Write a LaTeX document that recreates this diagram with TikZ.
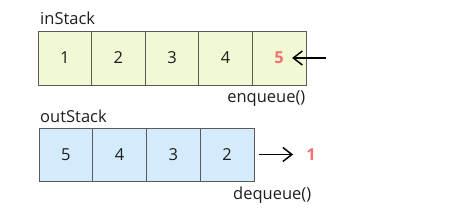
\documentclass[tikz,border=0pt]{standalone}
\usepackage{fontspec}
\setmainfont{Open Sans}
\usetikzlibrary{arrows.meta}
\definecolor{inFill}{HTML}{F1F8D4}
\definecolor{outFill}{HTML}{D3EBFB}
\definecolor{cellLine}{HTML}{5A5A5A}
\definecolor{hot}{HTML}{F07272}
\definecolor{ink}{HTML}{1E1E1E}
\tikzset{
  incell/.style={draw=cellLine, fill=inFill, line width=0.9pt, minimum width=53.6pt, minimum height=54pt, inner sep=0pt, text=ink, font=\fontsize{16.5}{19}\selectfont},
  outcell/.style={draw=cellLine, fill=outFill, line width=0.9pt, minimum width=53.75pt, minimum height=53pt, inner sep=0pt, text=ink, font=\fontsize{16.5}{19}\selectfont},
  lbl/.style={text=ink, inner sep=0pt, font=\fontsize{16.5}{19}\selectfont},
  hotnum/.style={text=hot, inner sep=0pt, font=\fontsize{16.5}{19}\selectfont\bfseries},
  arr/.style={-{Straight Barb[length=9pt,width=14pt,line width=1.5pt]}, line width=1.5pt, black}
}
\begin{document}
\begin{tikzpicture}[x=1pt,y=-1pt]
\useasboundingbox (0,0) rectangle (474,215);
% inStack
\node[lbl, anchor=west] (inlbl) at (40,18) {inStack};
\node[incell] (a1) at (64.8,58) {1};
\node[incell] (a2) at (118.4,58) {2};
\node[incell] (a3) at (172,58) {3};
\node[incell] (a4) at (225.6,58) {4};
\node[incell] (a5) at (279.2,58) {};
\node[hotnum] (five) at (279.2,58) {5};
\node[lbl, anchor=east] (enq) at (305.5,99) {enqueue()};
\coordinate (inSrc) at (326,58);
\draw[arr] (inSrc) -- ([xshift=8pt]five.east);
% outStack
\node[lbl, anchor=west] (outlbl) at (40,116) {outStack};
\node[outcell] (b1) at (65.9,154.5) {5};
\node[outcell] (b2) at (119.6,154.5) {4};
\node[outcell] (b3) at (173.4,154.5) {3};
\node[outcell] (b4) at (227.1,154.5) {2};
\node[hotnum] (one) at (311,154.5) {1};
\node[lbl, anchor=west] (deq) at (233,195) {dequeue()};
\draw[arr] ([xshift=5pt]b4.east) -- ([xshift=-13pt]one.west);
\end{tikzpicture}
\end{document}
